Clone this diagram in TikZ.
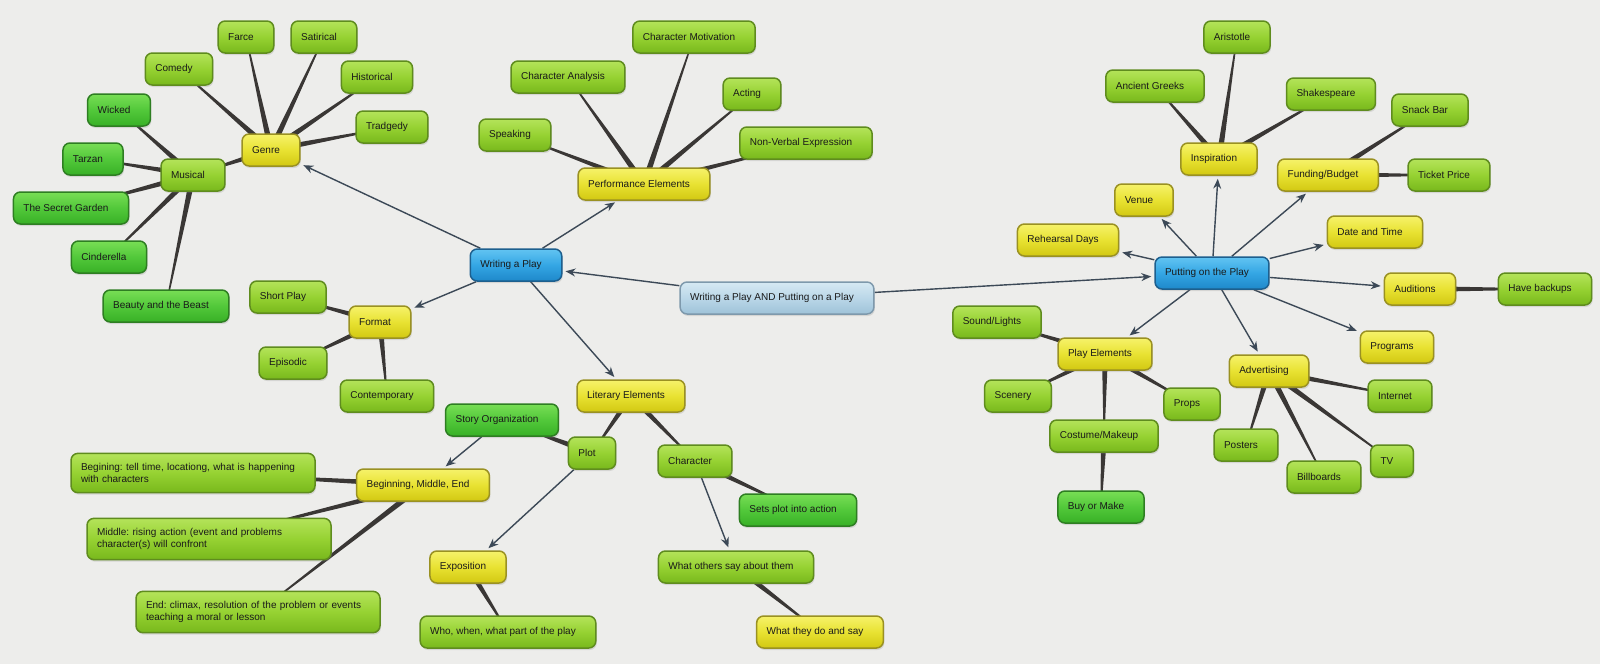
\documentclass[tikz,border=0pt]{standalone}
\usepackage{fontspec}
\setmainfont{Liberation Sans}
\frenchspacing
\usetikzlibrary{calc,arrows.meta,shadows}
\pgfdeclarelayer{bg}
\pgfdeclarelayer{links}
\pgfsetlayers{bg,links,main}
\definecolor{bgc}{HTML}{EDEDEB}
\definecolor{limeT}{HTML}{B4E35A}
\definecolor{limeM}{HTML}{96D232}
\definecolor{limeB}{HTML}{78B81C}
\definecolor{limeD}{HTML}{5F8C1E}
\definecolor{grnT}{HTML}{78DE55}
\definecolor{grnM}{HTML}{52C83A}
\definecolor{grnB}{HTML}{38B026}
\definecolor{grnD}{HTML}{2E7E22}
\definecolor{yelT}{HTML}{F6F26A}
\definecolor{yelM}{HTML}{E8E232}
\definecolor{yelB}{HTML}{D2C812}
\definecolor{yelD}{HTML}{9A9122}
\definecolor{bluT}{HTML}{62C4F2}
\definecolor{bluM}{HTML}{34A6E4}
\definecolor{bluB}{HTML}{1E88CA}
\definecolor{bluD}{HTML}{1D5F8E}
\definecolor{lbluT}{HTML}{D6E9F3}
\definecolor{lbluM}{HTML}{BAD7E8}
\definecolor{lbluB}{HTML}{9EC2D8}
\definecolor{lbluD}{HTML}{7E99AC}
\definecolor{linkc}{HTML}{3A3735}
\definecolor{arrc}{HTML}{3C4957}
\definecolor{txt}{HTML}{1A1A1A}
\tikzset{
  box/.style={rectangle, rounded corners=7pt, line width=1.5pt, minimum height=32pt,
    inner xsep=10pt, inner ysep=10pt, text=txt,
    font=\fontsize{10}{12}\selectfont, execute at end node={\hspace{10pt}},
    drop shadow={shadow xshift=1pt, shadow yshift=-2pt, opacity=0.22}},
  lime/.style={box, draw=limeD, top color=limeT, bottom color=limeB, middle color=limeM},
  grn/.style={box, draw=grnD, top color=grnT, bottom color=grnB, middle color=grnM},
  yel/.style={box, draw=yelD, top color=yelT, bottom color=yelB, middle color=yelM},
  blu/.style={box, draw=bluD, top color=bluT, bottom color=bluB, middle color=bluM},
  lblu/.style={box, draw=lbluD, top color=lbluT, bottom color=lbluB, middle color=lbluM},
  twoline/.style={text width=224pt, align=left, execute at end node={}},
  arr/.style={draw=arrc, line width=1.4pt, shorten >=3pt, -{Stealth[length=10pt,width=8pt]}},
}
\newcommand\taper[2]{\fill[linkc] ($(#1)!3pt!90:(#2)$) -- ($(#2)!0.5pt!-90:(#1)$) -- ($(#2)!0.5pt!90:(#1)$) -- ($(#1)!3pt!-90:(#2)$) -- cycle;}
\begin{document}
\begin{tikzpicture}[x=1pt,y=-1pt]
\begin{pgfonlayer}{bg}
\fill[bgc] (0,0) rectangle (1600,664);
\end{pgfonlayer}
\useasboundingbox (0,0) rectangle (1600,664);
% ---- Genre branch
\node[lime] (farce) at (246,37) {Farce};
\node[lime] (satirical) at (324,37) {Satirical};
\node[lime] (comedy) at (179,69) {Comedy};
\node[lime] (historical) at (377,77) {Historical};
\node[lime] (tragedy) at (392,127) {Tradgedy};
\node[yel] (genre) at (271,150) {Genre};
\node[grn] (wicked) at (119,110) {Wicked};
\node[grn] (tarzan) at (93,159) {Tarzan};
\node[lime] (musical) at (193,175) {Musical};
\node[grn] (garden) at (71,208) {The Secret Garden};
\node[grn] (cinderella) at (109,257) {Cinderella};
\node[grn] (beauty) at (166,306) {Beauty and the Beast};
% ---- Format
\node[lime] (short) at (288,297) {Short Play};
\node[yel] (format) at (380,322) {Format};
\node[lime] (episodic) at (293,363) {Episodic};
\node[lime] (contemp) at (387,396) {Contemporary};
% ---- Performance
\node[lime] (charmot) at (694,37) {Character Motivation};
\node[lime] (charan) at (568,77) {Character Analysis};
\node[lime] (acting) at (752,94) {Acting};
\node[lime] (speaking) at (515,135) {Speaking};
\node[lime] (nonverbal) at (806,143) {Non-Verbal Expression};
\node[yel] (perf) at (644,184) {Performance Elements};
\node[blu] (wap) at (516,265) {Writing a Play};
\node[lblu] (root) at (777,298) {Writing a Play AND Putting on a Play};
% ---- Literary
\node[yel] (lit) at (631,396) {Literary Elements};
\node[grn] (storyorg) at (502,420) {Story Organization};
\node[lime] (plot) at (592,453) {Plot};
\node[lime] (character) at (695,461) {Character};
\node[grn] (sets) at (798,510) {Sets plot into action};
\node[yel] (bme) at (423,485) {Beginning, Middle, End};
\node[lime, twoline] (beg) at (193,473) {Begining: tell time, locationg, what is happening\\with characters};
\node[lime, twoline] (mid) at (209,539) {Middle: rising action (event and problems\\character(s) will confront};
\node[lime, twoline] (endn) at (258,612) {End: climax, resolution of the problem or events\\teaching a moral or lesson};
\node[yel] (expo) at (468,567) {Exposition};
\node[lime] (who) at (508,632) {Who, when, what part of the play};
\node[lime] (others) at (736,567) {What others say about them};
\node[yel] (dosay) at (820,632) {What they do and say};
% ---- Putting on the Play
\node[lime] (aristotle) at (1237,37) {Aristotle};
\node[lime] (greeks) at (1155,86) {Ancient Greeks};
\node[lime] (shakes) at (1331,94) {Shakespeare};
\node[lime] (snack) at (1430,110) {Snack Bar};
\node[yel] (insp) at (1219,159) {Inspiration};
\node[yel] (fund) at (1328,175) {Funding/Budget};
\node[lime] (ticket) at (1449,175) {Ticket Price};
\node[yel] (venue) at (1144,200) {Venue};
\node[yel] (rehearsal) at (1068,240) {Rehearsal Days};
\node[yel] (datetime) at (1375,232) {Date and Time};
\node[blu] (put) at (1212,273) {Putting on the Play};
\node[yel] (aud) at (1420,289) {Auditions};
\node[lime] (backup) at (1545,289) {Have backups};
\node[lime] (sound) at (997,322) {Sound/Lights};
\node[yel] (playel) at (1105,354) {Play Elements};
\node[lime] (scenery) at (1018,396) {Scenery};
\node[lime] (props) at (1192,404) {Props};
\node[lime] (costume) at (1104,436) {Costume/Makeup};
\node[grn] (buy) at (1101,507) {Buy or Make};
\node[yel] (adv) at (1269,371) {Advertising};
\node[yel] (programs) at (1397,347) {Programs};
\node[lime] (internet) at (1400,396) {Internet};
\node[lime] (posters) at (1246,445) {Posters};
\node[lime] (billboards) at (1324,477) {Billboards};
\node[lime] (tv) at (1392,461) {TV};
\begin{pgfonlayer}{links}
\taper{genre}{farce}\taper{genre}{satirical}\taper{genre}{comedy}
\taper{genre}{historical}\taper{genre}{tragedy}\taper{genre}{musical}
\taper{musical}{wicked}\taper{musical}{tarzan}\taper{musical}{garden}
\taper{musical}{cinderella}\taper{musical}{beauty}
\taper{format}{short}\taper{format}{episodic}\taper{format}{contemp}
\taper{perf}{charmot}\taper{perf}{charan}\taper{perf}{acting}
\taper{perf}{speaking}\taper{perf}{nonverbal}
\taper{lit}{plot}\taper{lit}{character}\taper{plot}{storyorg}
\taper{bme}{beg}\taper{bme}{mid}\taper{bme}{endn}
\taper{expo}{who}\taper{character}{sets}\taper{others}{dosay}
\taper{insp}{aristotle}\taper{insp}{greeks}\taper{insp}{shakes}
\taper{fund}{snack}\taper{fund}{ticket}\taper{aud}{backup}
\taper{playel}{sound}\taper{playel}{scenery}\taper{playel}{props}
\taper{playel}{costume}\taper{costume}{buy}
\taper{adv}{internet}\taper{adv}{posters}\taper{adv}{billboards}\taper{adv}{tv}
\draw[arr] (root) -- (wap);
\draw[arr] (root) -- (put);
\draw[arr] (wap) -- (genre);
\draw[arr] (wap) -- (perf);
\draw[arr] (wap) -- (format);
\draw[arr] (wap) -- (lit);
\draw[arr] (storyorg) -- (bme);
\draw[arr] (plot) -- (expo);
\draw[arr] (character) -- (others);
\draw[arr] (put) -- (insp);
\draw[arr] (put) -- (venue);
\draw[arr] (put) -- (rehearsal);
\draw[arr] (put) -- (fund);
\draw[arr] (put) -- (datetime);
\draw[arr] (put) -- (aud);
\draw[arr] (put) -- (programs);
\draw[arr] (put) -- (adv);
\draw[arr] (put) -- (playel);
\end{pgfonlayer}
\end{tikzpicture}
\end{document}
